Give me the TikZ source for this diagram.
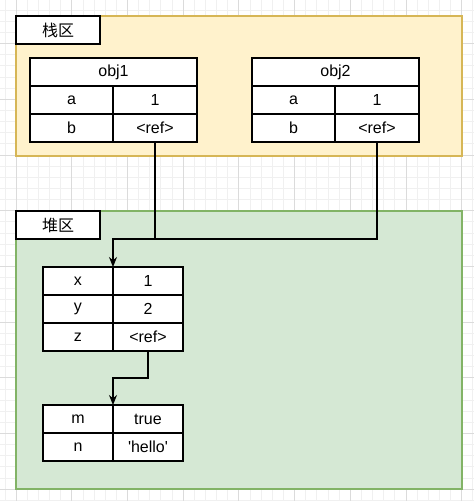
\documentclass[tikz,border=0pt]{standalone}
\usepackage{fontspec}
\setmainfont{Liberation Sans}
\newfontfamily\cjkfont{Noto Sans CJK SC}
\usetikzlibrary{arrows.meta,positioning}
\definecolor{stackfill}{HTML}{FFF2CC}
\definecolor{stackline}{HTML}{D6B656}
\definecolor{heapfill}{HTML}{D5E8D4}
\definecolor{heapline}{HTML}{82B366}

\begin{document}
\begin{tikzpicture}[x=0.75pt,y=-0.75pt,font=\fontsize{12}{14}\selectfont]
    \tikzset {
        grid minor/.style = {draw=black!6, line width=0.5pt},
        grid major/.style = {draw=black!14, line width=0.6pt},
        tag/.style = {draw=black, fill=white, line width=1pt, minimum width=63pt, minimum height=21pt,
            inner sep=0pt, outer sep=0pt, anchor=north west, font=\cjkfont\fontsize{12}{14}\selectfont},
        cell/.style = {draw=black, fill=white, line width=1pt, minimum width=#1, minimum height=21pt,
            inner sep=0pt, outer sep=0pt, anchor=north west},
        cell/.default = 52.5pt,
        link/.style = {line width=1pt, -{Stealth[length=7.5pt,width=6pt]}}
    }
    \useasboundingbox (0,0) rectangle (474,501);
    % background grid
    \foreach \i in {0,...,42} \draw[grid minor] ({4.86+\i*11.14},0) -- ++(0,501);
    \foreach \i in {0,...,44} \draw[grid minor] (0,{10.08+\i*11.14}) -- ++(474,0);
    \foreach \i in {0,...,8} \draw[grid major] ({16+\i*55.7},0) -- ++(0,501);
    \foreach \i in {-1,...,8} \draw[grid major] (0,{43.5+\i*55.7}) -- ++(474,0);
    % areas
    \draw[fill=stackfill, draw=stackline, line width=0.9pt] (16,16) rectangle (462,156);
    \draw[fill=heapfill, draw=heapline, line width=0.9pt] (16,211) rectangle (462,489);
    \node[tag] (stack) at (16,16) {栈区};
    \node[tag] (heap) at (16,211) {堆区};
    % obj1
    \node[cell=125.25pt] (o1) at (30,58) {obj1};
    \node[cell=62.25pt] (o1a) at (o1.south west) {a};
    \node[cell=63pt] (o1av) at (o1a.north east) {1};
    \node[cell=62.25pt] (o1b) at (o1a.south west) {b};
    \node[cell=63pt] (o1bv) at (o1b.north east) {<ref>};
    % obj2
    \node[cell=125.25pt] (o2) at (252,58) {obj2};
    \node[cell=62.25pt] (o2a) at (o2.south west) {a};
    \node[cell=63pt] (o2av) at (o2a.north east) {1};
    \node[cell=62.25pt] (o2b) at (o2a.south west) {b};
    \node[cell=63pt] (o2bv) at (o2b.north east) {<ref>};
    % heap objects
    \node[cell] (hx) at (43,267) {x};
    \node[cell] (hxv) at (hx.north east) {1};
    \node[cell] (hy) at (hx.south west) {y};
    \node[cell] (hyv) at (hy.north east) {2};
    \node[cell] (hz) at (hy.south west) {z};
    \node[cell] (hzv) at (hz.north east) {<ref>};
    \node[cell] (hm) at (43,405) {m};
    \node[cell] (hmv) at (hm.north east) {true};
    \node[cell] (hn) at (hm.south west) {n};
    \node[cell] (hnv) at (hn.north east) {\textquotesingle hello\textquotesingle};
    % references
    \coordinate (join) at (113,239);
    \draw[link] (o1bv.south) |- (join) -- (hx.north east);
    \draw[line width=1pt] (o2bv.south) |- (join);
    \draw[link] (hzv.south) -- ++(0,27) -| (hm.north east);
\end{tikzpicture}
\end{document}
